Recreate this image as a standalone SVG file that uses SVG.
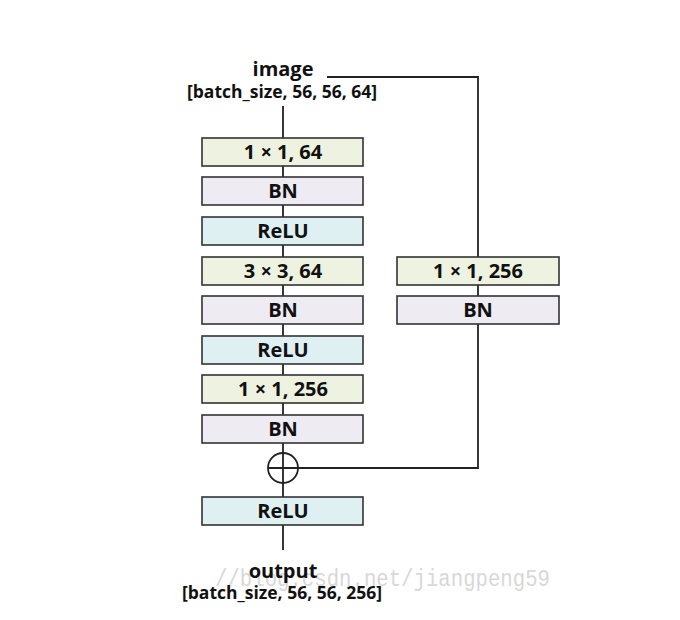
<svg xmlns="http://www.w3.org/2000/svg" width="680" height="620" viewBox="0 0 680 620">
<style>
.b{stroke:#333;stroke-width:1.6}
.g{fill:#eef2e0}.n{fill:#eeebf3}.r{fill:#dff0f3}
.t{font-family:"Open Sans","Noto Sans",sans-serif;font-weight:bold;font-size:20px;fill:#111;text-anchor:middle}
.s{font-size:17.5px}
.l{stroke:#222;stroke-width:1.8;fill:none}
</style>
<rect width="680" height="620" fill="#fff"/>
<g id="connectors">
<path class="l" d="M283 106V497M283 525V550M327 77H478V468H298"/>
</g>
<g id="input"><text class="t" x="283" y="76">image</text><text class="t s" x="282" y="98">[batch_size, 56, 56, 64]</text></g>
<g id="c1"><rect class="b g" x="202" y="138" width="161" height="28"/><text class="t" x="283" y="159">1 × 1, 64</text></g>
<g id="bn1"><rect class="b n" x="202" y="177" width="161" height="28"/><text class="t" x="283" y="198">BN</text></g>
<g id="relu1"><rect class="b r" x="202" y="217" width="161" height="28"/><text class="t" x="283" y="238">ReLU</text></g>
<g id="c2"><rect class="b g" x="202" y="257" width="161" height="28"/><text class="t" x="283" y="278">3 × 3, 64</text></g>
<g id="bn2"><rect class="b n" x="202" y="296" width="161" height="28"/><text class="t" x="283" y="317">BN</text></g>
<g id="relu2"><rect class="b r" x="202" y="336" width="161" height="28"/><text class="t" x="283" y="357">ReLU</text></g>
<g id="c3"><rect class="b g" x="202" y="375" width="161" height="28"/><text class="t" x="283" y="396">1 × 1, 256</text></g>
<g id="bn3"><rect class="b n" x="202" y="415" width="161" height="28"/><text class="t" x="283" y="436">BN</text></g>
<g id="sc"><rect class="b g" x="397" y="257" width="162" height="28"/><text class="t" x="478" y="278">1 × 1, 256</text></g>
<g id="scbn"><rect class="b n" x="397" y="296" width="162" height="28"/><text class="t" x="478" y="317">BN</text></g>
<g id="add"><circle cx="283" cy="468" r="15" fill="#fff" stroke="#222" stroke-width="1.8"/><path class="l" d="M268 468H298M283 453V483"/></g>
<g id="relu3"><rect class="b r" x="202" y="497" width="161" height="28"/><text class="t" x="283" y="518">ReLU</text></g>
<text x="215" y="586" font-family="Liberation Mono,monospace" font-size="23" fill="#d8d8d8" textLength="335" lengthAdjust="spacingAndGlyphs">//blog.csdn.net/jiangpeng59</text>
<g id="output"><text class="t" x="283" y="578">output</text><text class="t s" x="282" y="599">[batch_size, 56, 56, 256]</text></g>
</svg>
